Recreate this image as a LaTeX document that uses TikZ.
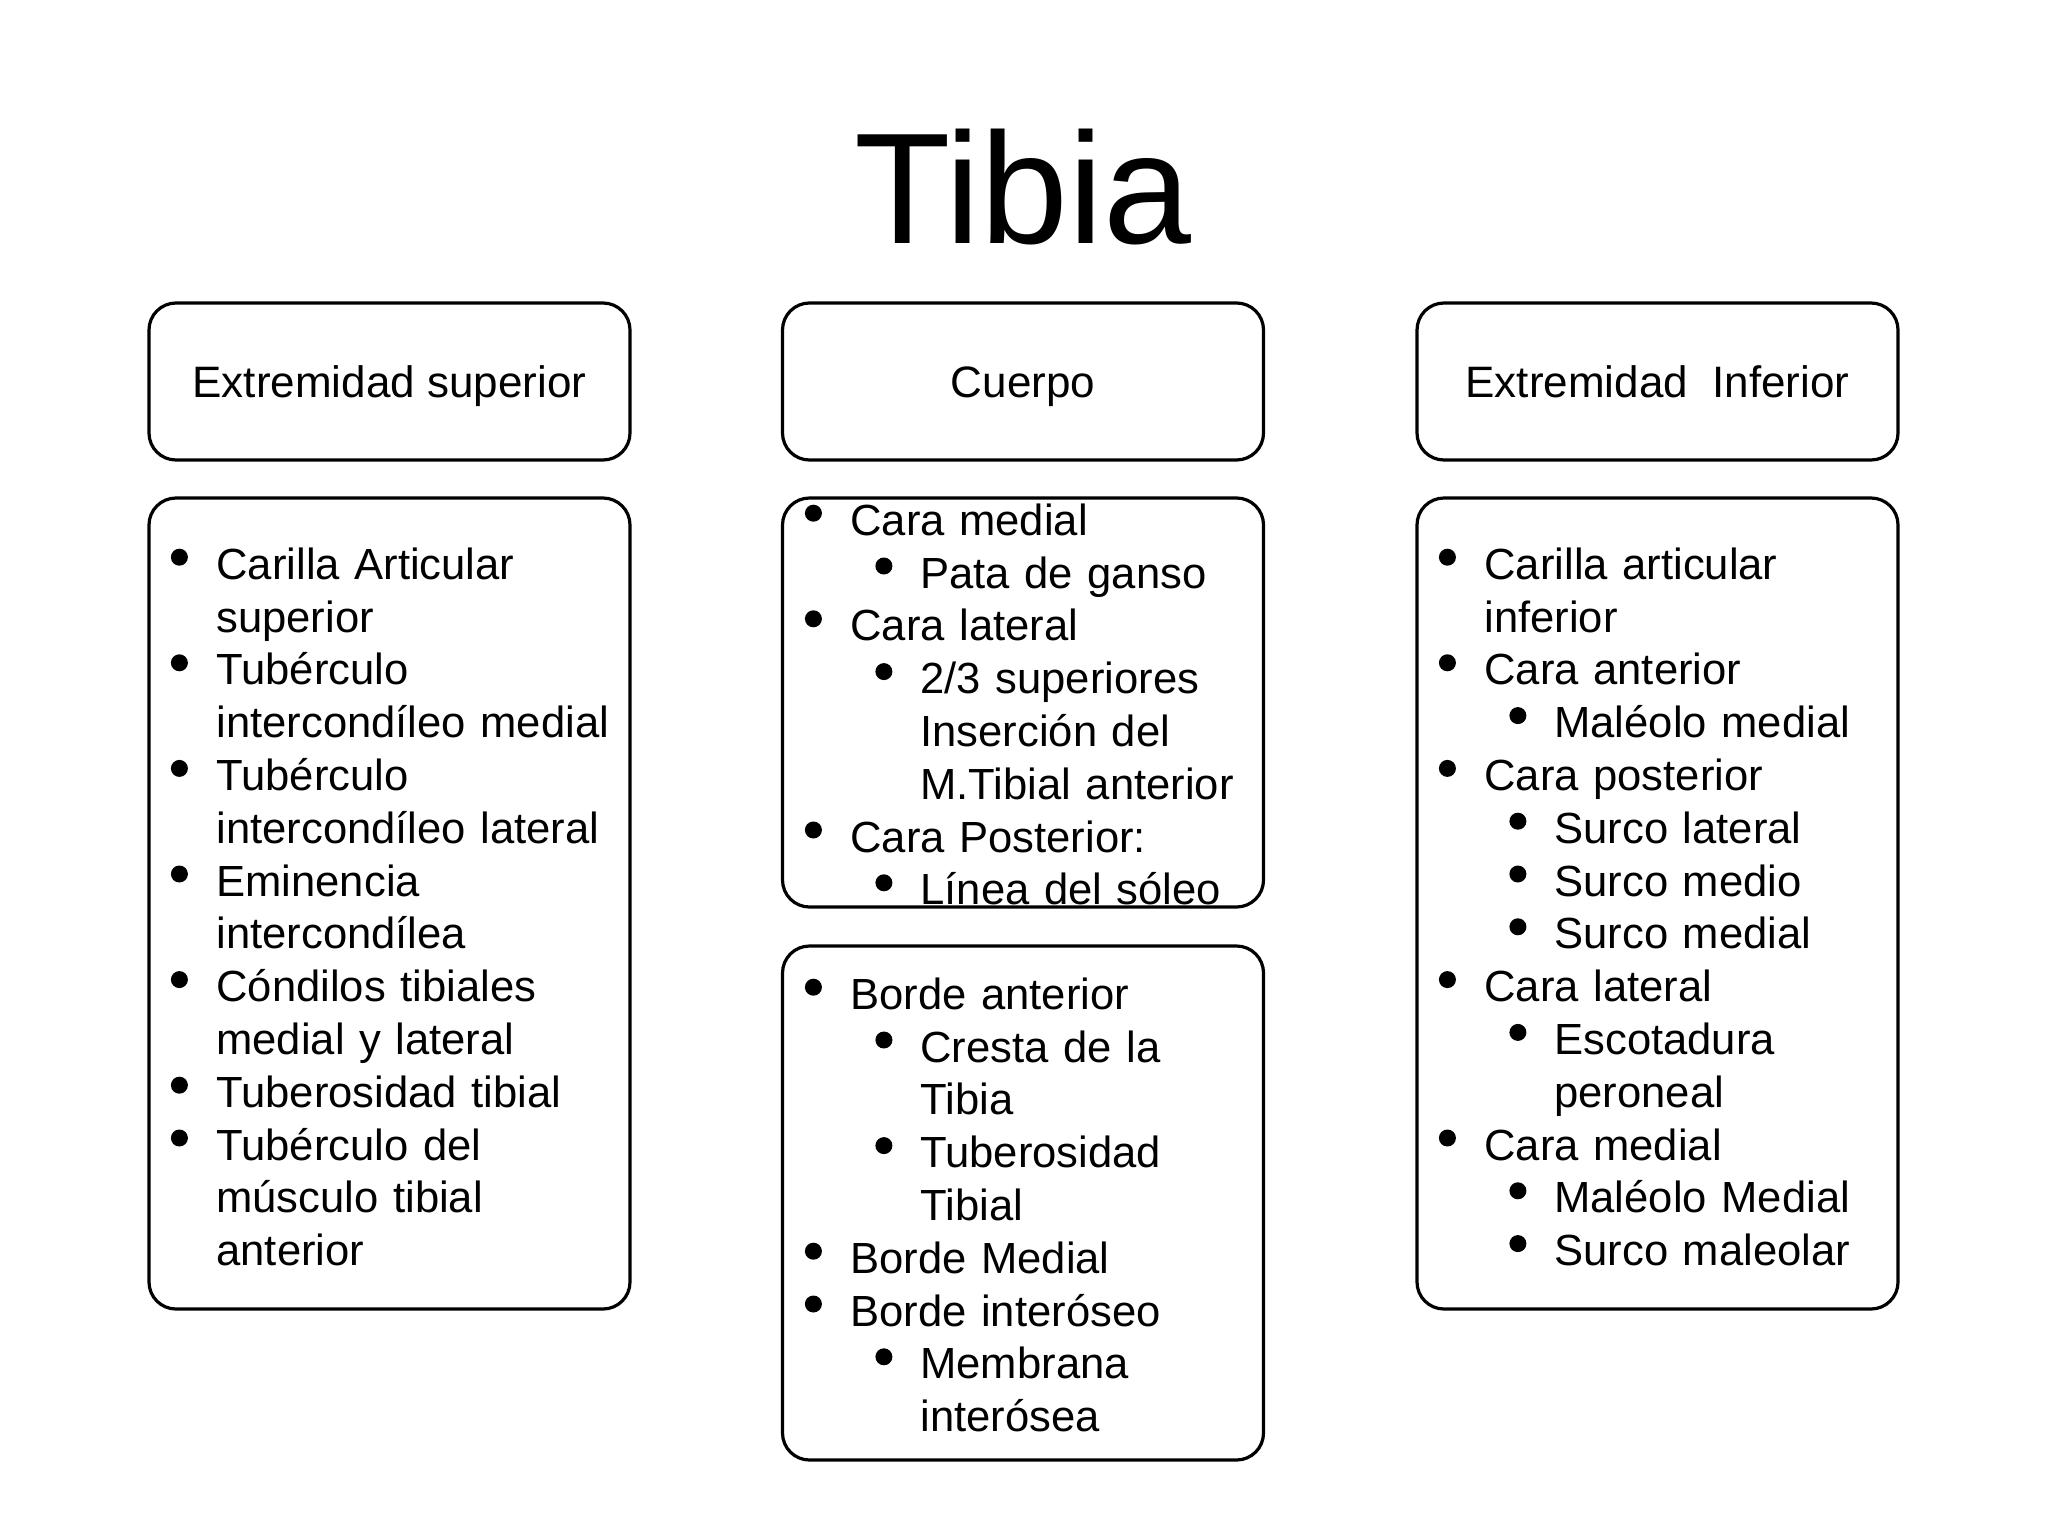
\documentclass[tikz,border=0pt]{standalone}
\usepackage{fontspec}
\setmainfont{Liberation Sans}
\newcommand\bul{\tikz[baseline=0pt]\fill (4.25pt,11pt) circle [radius=4.25pt];}
\newcommand\itemA[1]{\par\hangindent=33.5pt\hangafter=1\noindent\strut\makebox[33.5pt][l]{\hspace{10.75pt}\bul}#1}
\newcommand\itemB[1]{\par\hangindent=68.5pt\hangafter=1\noindent\strut\makebox[68.5pt][l]{\hspace{46pt}\bul}#1}
\tikzset{
  box/.style={draw=black, line width=1.6pt, rounded corners=13.5pt, minimum width=240.5pt, inner sep=0pt},
  hdr/.style={box, minimum height=78.5pt, font=\fontsize{22pt}{26.45pt}\selectfont, text height=15.75pt, text depth=0pt},
  listtext/.style={anchor=north west, inner sep=0pt, text width=280pt, align=left, font=\fontsize{21.8pt}{26.4pt}\selectfont},
  titletext/.style={anchor=base, inner sep=0pt, font=\fontsize{79pt}{90pt}\selectfont}
}
\begin{document}
\begin{tikzpicture}[x=0.5pt, y=-0.5pt]
\fill[white] (0,0) rectangle (2048,1536);
\useasboundingbox (0,0) rectangle (2048,1536);

\node[titletext] (title) at (1023,243) {Tibia};

\node[hdr] (h1) at (389.5,381.5) {Extremidad superior};
\node[hdr] (h2) at (1023,381.5) {Cuerpo};
\node[hdr] (h3) at (1657.5,381.5) {Extremidad\ \ Inferior};

\node[box, minimum height=405.5pt] (b1) at (389.5,903.5) {};
\node[box, minimum height=204.5pt] (b2) at (1023,702.5) {};
\node[box, minimum height=257pt] (b3) at (1023,1203) {};
\node[box, minimum height=405.5pt] (b4) at (1657.5,903.5) {};

\node[listtext] (t1) at (149,526) {%
\itemA{Carilla Articular\newline superior}
\itemA{Tubérculo\newline intercondíleo medial}
\itemA{Tubérculo\newline intercondíleo lateral}
\itemA{Eminencia\newline intercondílea}
\itemA{Cóndilos tibiales\newline medial y lateral}
\itemA{Tuberosidad tibial}
\itemA{Tubérculo del\newline músculo tibial\newline anterior}\par};

\node[listtext] (t2) at (783,482) {%
\itemA{Cara medial}
\itemB{Pata de ganso}
\itemA{Cara lateral}
\itemB{2/3 superiores\newline Inserción del\newline M.Tibial anterior}
\itemA{Cara Posterior:}
\itemB{Línea del sóleo}\par};

\node[listtext] (t3) at (783,956) {%
\itemA{Borde anterior}
\itemB{Cresta de la\newline Tibia}
\itemB{Tuberosidad\newline Tibial}
\itemA{Borde Medial}
\itemA{Borde interóseo}
\itemB{Membrana\newline interósea}\par};

\node[listtext] (t4) at (1417,526) {%
\itemA{Carilla articular\newline inferior}
\itemA{Cara anterior}
\itemB{Maléolo medial}
\itemA{Cara posterior}
\itemB{Surco lateral}
\itemB{Surco medio}
\itemB{Surco medial}
\itemA{Cara lateral}
\itemB{Escotadura\newline peroneal}
\itemA{Cara medial}
\itemB{Maléolo Medial}
\itemB{Surco maleolar}\par};
\end{tikzpicture}
\end{document}
